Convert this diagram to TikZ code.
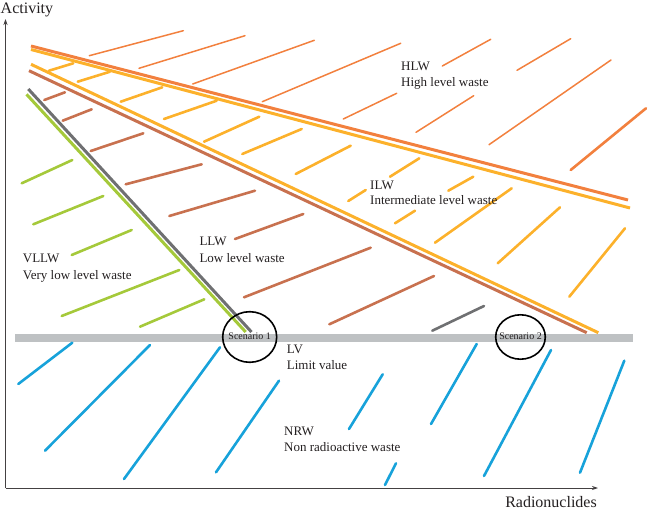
\documentclass[tikz,border=0pt]{standalone}
\usepackage{fontspec}
\setmainfont{Liberation Serif}
\usetikzlibrary{arrows.meta}
\definecolor{hlw}{HTML}{F2803E}
\definecolor{ilw}{HTML}{FCB12B}
\definecolor{llw}{HTML}{C8714F}
\definecolor{grayl}{HTML}{6F7072}
\definecolor{vllw}{HTML}{A5C93A}
\definecolor{nrw}{HTML}{17A2DA}
\definecolor{bar}{HTML}{BEC1C3}
\definecolor{txt}{HTML}{231F20}
\tikzset{
  boundary/.style={line width=3pt},
  thinhatch/.style={hlw, line width=1.5pt, line cap=round},
  hatch/.style={line width=2.6pt, line cap=round},
  lab/.style={anchor=base west, inner sep=0pt, text=txt, font=\fontsize{13}{15}\selectfont},
  axlab/.style={inner sep=0pt, text=txt, font=\fontsize{16}{18}\selectfont},
  scen/.style={inner sep=0pt, text=txt, font=\fontsize{10}{12}\selectfont},
}
\begin{document}
\begin{tikzpicture}[x=1pt,y=-1pt]
\useasboundingbox (0,0) rectangle (648,513);
% axes
\coordinate (o) at (5.5,488);
\coordinate (ytop) at (5.5,19);
\coordinate (xend) at (598,488);
\draw[txt!85, line width=0.9pt, -{Stealth[length=6pt,width=4pt]}] (o) -- (ytop);
\draw[txt!85, line width=0.9pt, -{Stealth[length=6pt,width=4pt]}] (o) -- (xend);
\node[axlab, anchor=base west] (act) at (0.5,14) {Activity};
\node[axlab, anchor=base east] (rad) at (597,507.5) {Radionuclides};

% limit bar
\draw[bar, line width=8pt] (15,337.5) -- (633,337.5);

% HLW hatches (thin)
\draw[thinhatch] (89.3,55.7) -- (183.3,30.7);
\draw[thinhatch] (139,68.3) -- (245,35.7);
\draw[thinhatch] (192.7,84) -- (314.3,40.3);
\draw[thinhatch] (262.3,101.7) -- (400.7,43.3);
\draw[thinhatch] (442.3,66) -- (490.7,39.3);
\draw[thinhatch] (517,70.3) -- (570.7,38.7);
\draw[thinhatch] (343.3,119) -- (396.7,93.3);
\draw[thinhatch] (416,132.3) -- (473.7,95.7);
\draw[thinhatch] (489,144.7) -- (611,60);
\draw[hatch, hlw] (570.7,170) -- (646,108.3);

% ILW hatches
\draw[hatch, ilw] (49,70.7) -- (73.3,63.3);
\draw[hatch, ilw] (77.7,81.7) -- (110,71.7);
\draw[hatch, ilw] (120.7,101.7) -- (162.3,87.3);
\draw[hatch, ilw] (164,119) -- (216.7,100.7);
\draw[hatch, ilw] (204,141.7) -- (259.3,116.7);
\draw[hatch, ilw] (242.3,154) -- (301.7,129);
\draw[hatch, ilw] (295.7,174) -- (350.7,145.7);
\draw[hatch, ilw] (390,176.7) -- (419.3,158.3);
\draw[hatch, ilw] (448.3,190.7) -- (473.3,176.7);
\draw[hatch, ilw] (435,242.7) -- (511.7,188.3);
\draw[hatch, ilw] (348.3,201) -- (365.7,190);
\draw[hatch, ilw] (395,223.3) -- (415,210.7);
\draw[hatch, ilw] (497.7,263.3) -- (560,207.3);
\draw[hatch, ilw] (569.3,296.7) -- (625,228.3);

% LLW hatches
\draw[hatch, llw] (44.3,100) -- (65,92.3);
\draw[hatch, llw] (62.7,120.7) -- (91.7,109.3);
\draw[hatch, llw] (90.7,151) -- (143.3,133.3);
\draw[hatch, llw] (125.7,184.3) -- (201.7,164.3);
\draw[hatch, llw] (169.3,216) -- (255,190.7);
\draw[hatch, llw] (235,239) -- (303.3,214);
\draw[hatch, llw] (244,297.3) -- (370.7,247.7);
\draw[hatch, llw] (329.3,324.3) -- (434,276);
\draw[hatch, grayl] (432.3,330.7) -- (484,306);

% VLLW hatches
\draw[hatch, vllw] (21.7,183.3) -- (72.3,160);
\draw[hatch, vllw] (33.3,224.3) -- (103.3,196);
\draw[hatch, vllw] (71.7,255) -- (131.7,230);
\draw[hatch, vllw] (61.7,316) -- (179.3,270);
\draw[hatch, vllw] (140,326.7) -- (204.3,299.3);

% NRW hatches
\draw[hatch, nrw] (18.3,384) -- (72.3,342.7);
\draw[hatch, nrw] (45,450.7) -- (150,345);
\draw[hatch, nrw] (124,479) -- (220,347.3);
\draw[hatch, nrw] (216,472.3) -- (279,380.7);
\draw[hatch, nrw] (349,429) -- (382.7,374.3);
\draw[hatch, nrw] (431,424) -- (476.7,344);
\draw[hatch, nrw] (385,485) -- (396,463.3);
\draw[hatch, nrw] (484,476) -- (551,350);
\draw[hatch, nrw] (580,472.7) -- (624.3,360.7);

% boundary lines
\draw[boundary, ilw] (31,49.5) -- (630,208);
\draw[boundary, hlw] (31,46) -- (628,200);
\draw[boundary, ilw] (31,64.3) -- (598.3,332.7);
\draw[boundary, llw] (29,70.7) -- (586.7,332.7);
\draw[boundary, grayl] (28.3,89) -- (251.5,332);
\draw[boundary, vllw] (26.5,94.3) -- (245.7,332);

% scenario circles
\draw[black, line width=1.6pt] (249.7,337) ellipse [x radius=27, y radius=25.3];
\draw[black, line width=1.6pt] (520.5,337) ellipse [x radius=24.8, y radius=22.2];
\node[scen] (s1) at (249.7,336.5) {Scenario 1};
\node[scen] (s2) at (520.5,336.5) {Scenario 2};

% labels
\node[lab] (hlw1) at (401,71) {HLW};
\node[lab] (hlw2) at (401,87) {High level waste};
\node[lab] (ilw1) at (370,189.3) {ILW};
\node[lab] (ilw2) at (370,205) {Intermediate level waste};
\node[lab] (llw1) at (199.3,246) {LLW};
\node[lab] (llw2) at (199.3,262) {Low level waste};
\node[lab] (vllw1) at (22.7,262.6) {VLLW};
\node[lab] (vllw2) at (22.7,279.3) {Very low level waste};
\node[lab] (lv1) at (286.7,353.3) {LV};
\node[lab] (lv2) at (286.7,369.3) {Limit value};
\node[lab] (nrw1) at (284,435.3) {NRW};
\node[lab] (nrw2) at (284,451.6) {Non radioactive waste};
\end{tikzpicture}
\end{document}
